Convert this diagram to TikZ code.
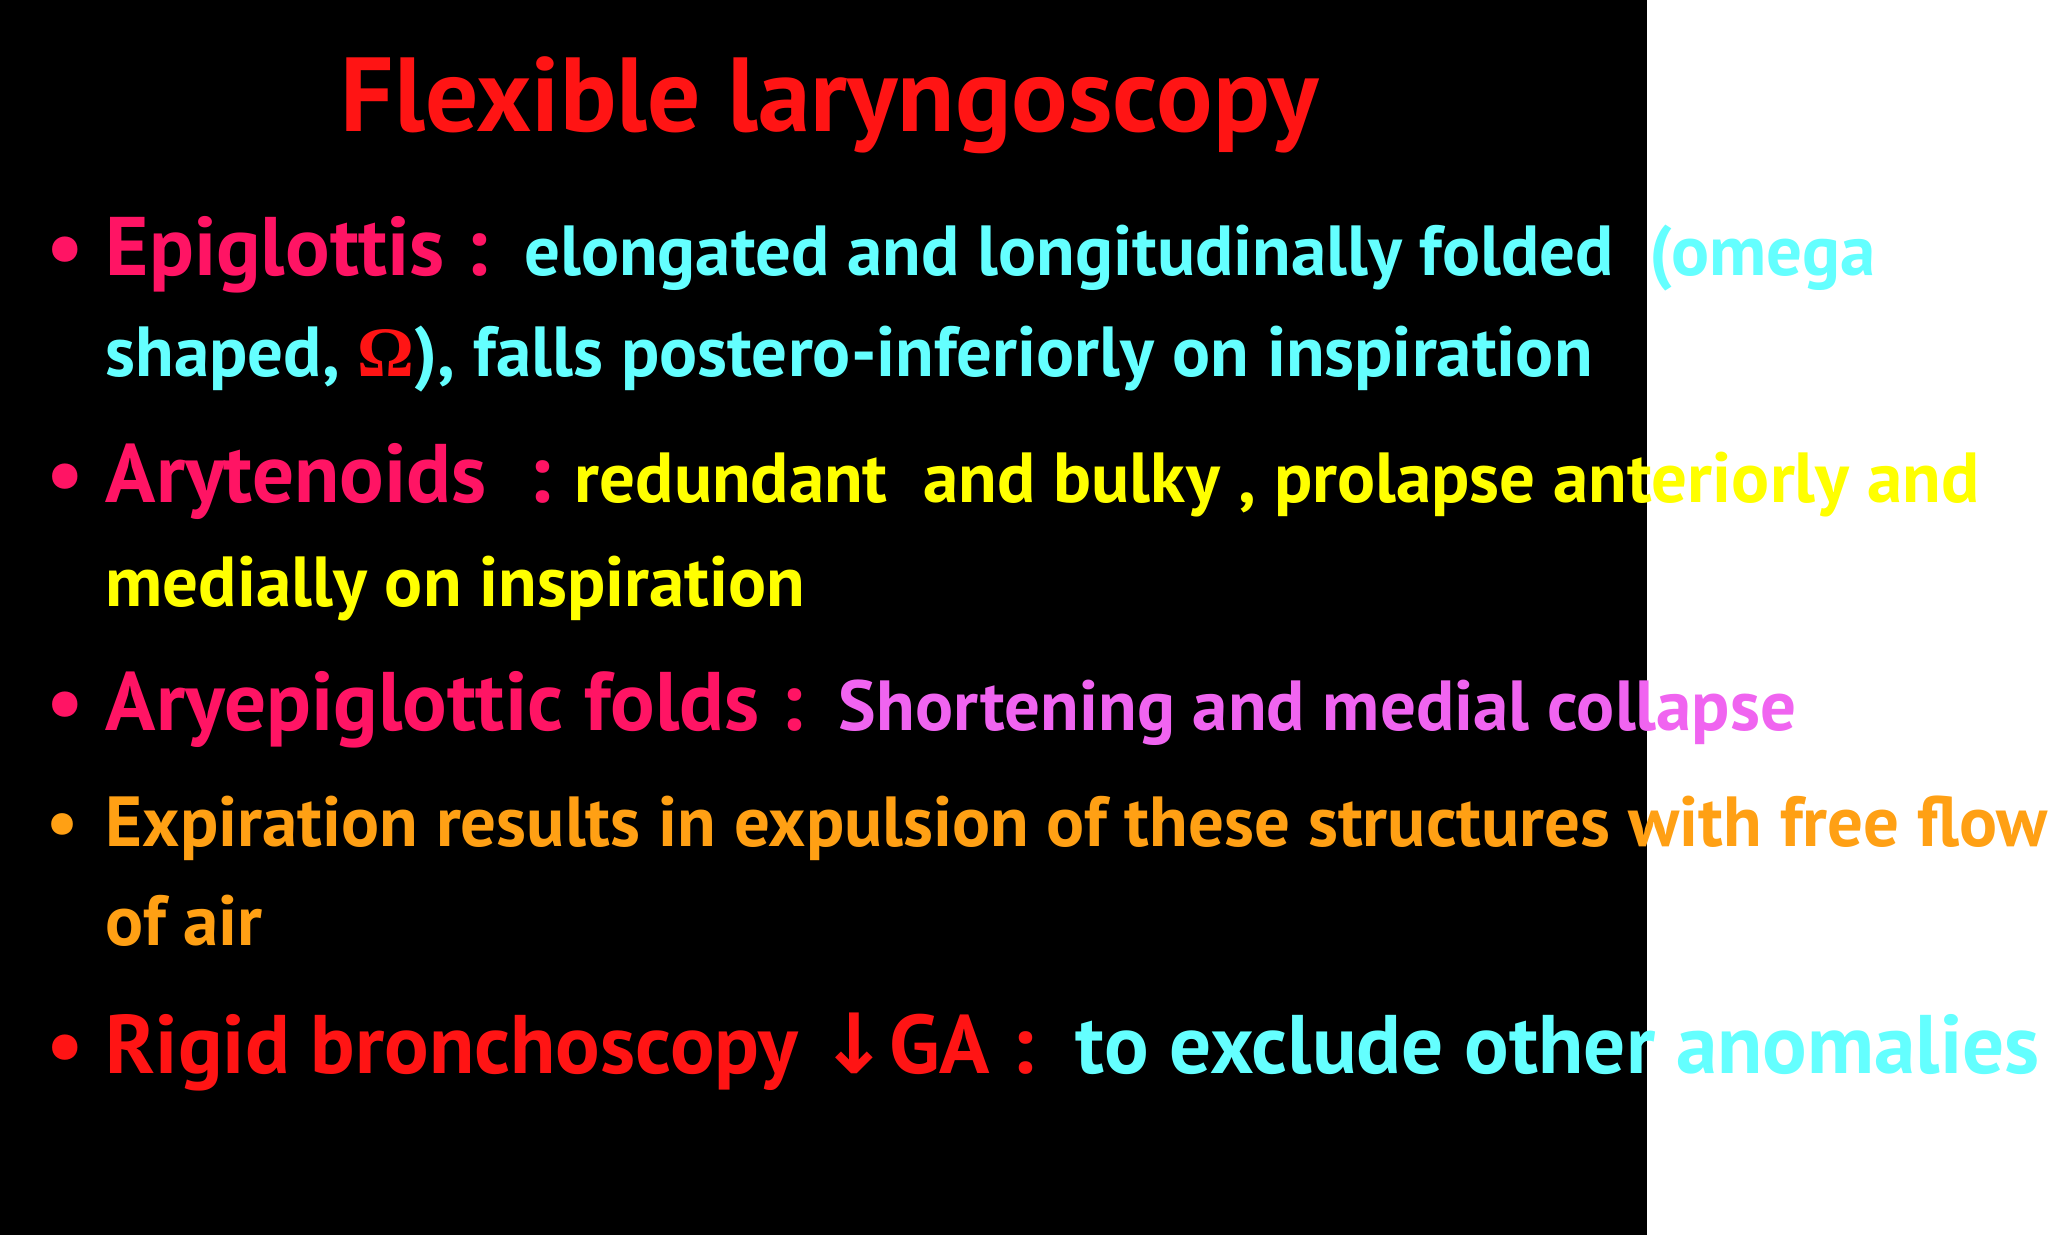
\documentclass[tikz,border=0pt]{standalone}
\usepackage{fontspec}
\setmainfont{PT Sans}
\newfontfamily\sym{DejaVu Sans}
\newfontfamily\srf{Liberation Serif}
\definecolor{hd}{RGB}{255,20,100}
\definecolor{cy}{RGB}{100,255,255}
\definecolor{yl}{RGB}{255,255,0}
\definecolor{pk}{RGB}{240,100,240}
\definecolor{orn}{RGB}{255,160,20}
\definecolor{rd}{RGB}{255,20,20}
\newcommand{\bodyf}{\fontsize{19.2}{23}\selectfont}
\newcommand{\headf}{\fontsize{22.5}{27}\selectfont}
\tikzset{ln/.style={anchor=base west,inner sep=0pt,font=\bfseries\bodyf},
 bul/.style={anchor=base,inner sep=0pt,font=\bfseries\headf}}
\begin{document}
\begin{tikzpicture}[x=0.01cm,y=-0.01cm]
\fill[black] (0,0) rectangle (1568,1176);
\node[anchor=base,inner sep=0pt,font=\bfseries\fontsize{28.5}{34}\selectfont,text=rd] (t) at (790,125) {Flexible laryngoscopy};
\node[bul,text=hd] (b1) at (62,262) {•};
\node[ln] (l1) at (100,262) {\textcolor{hd}{\headf Epiglottis :}\ \ \textcolor{cy}{elongated and longitudinally folded\ \ (omega}};
\node[ln,text=cy] (l2) at (100,358) {shaped, \textcolor{rd}{\srf Ω}), falls postero-inferiorly on inspiration};
\node[bul,text=hd] (b2) at (62,478) {•};
\node[ln] (l3) at (100,478) {\textcolor{hd}{\headf Arytenoids\ \ :} \textcolor{yl}{redundant\ \ and bulky , prolapse anteriorly and}};
\node[ln,text=yl] (l4) at (100,577) {medially on inspiration};
\node[bul,text=hd] (b3) at (62,695) {•};
\node[ln] (l5) at (100,695) {\textcolor{hd}{\headf Aryepiglottic folds :}\ \ \textcolor{pk}{Shortening and medial collapse}};
\node[bul,text=orn,font=\bfseries\bodyf] (b4) at (60,806) {•};
\node[ln,text=orn] (l6) at (100,806) {Expiration results in expulsion of these structures with free flow};
\node[ln,text=orn] (l7) at (100,900) {of air};
\node[bul,text=rd] (b5) at (62,1022) {•};
\node[ln,font=\bfseries\headf] (l8) at (100,1022) {\textcolor{rd}{Rigid bronchoscopy {\sym↓}GA :}\ \ \textcolor{cy}{to exclude other anomalies}};
\end{tikzpicture}
\end{document}
